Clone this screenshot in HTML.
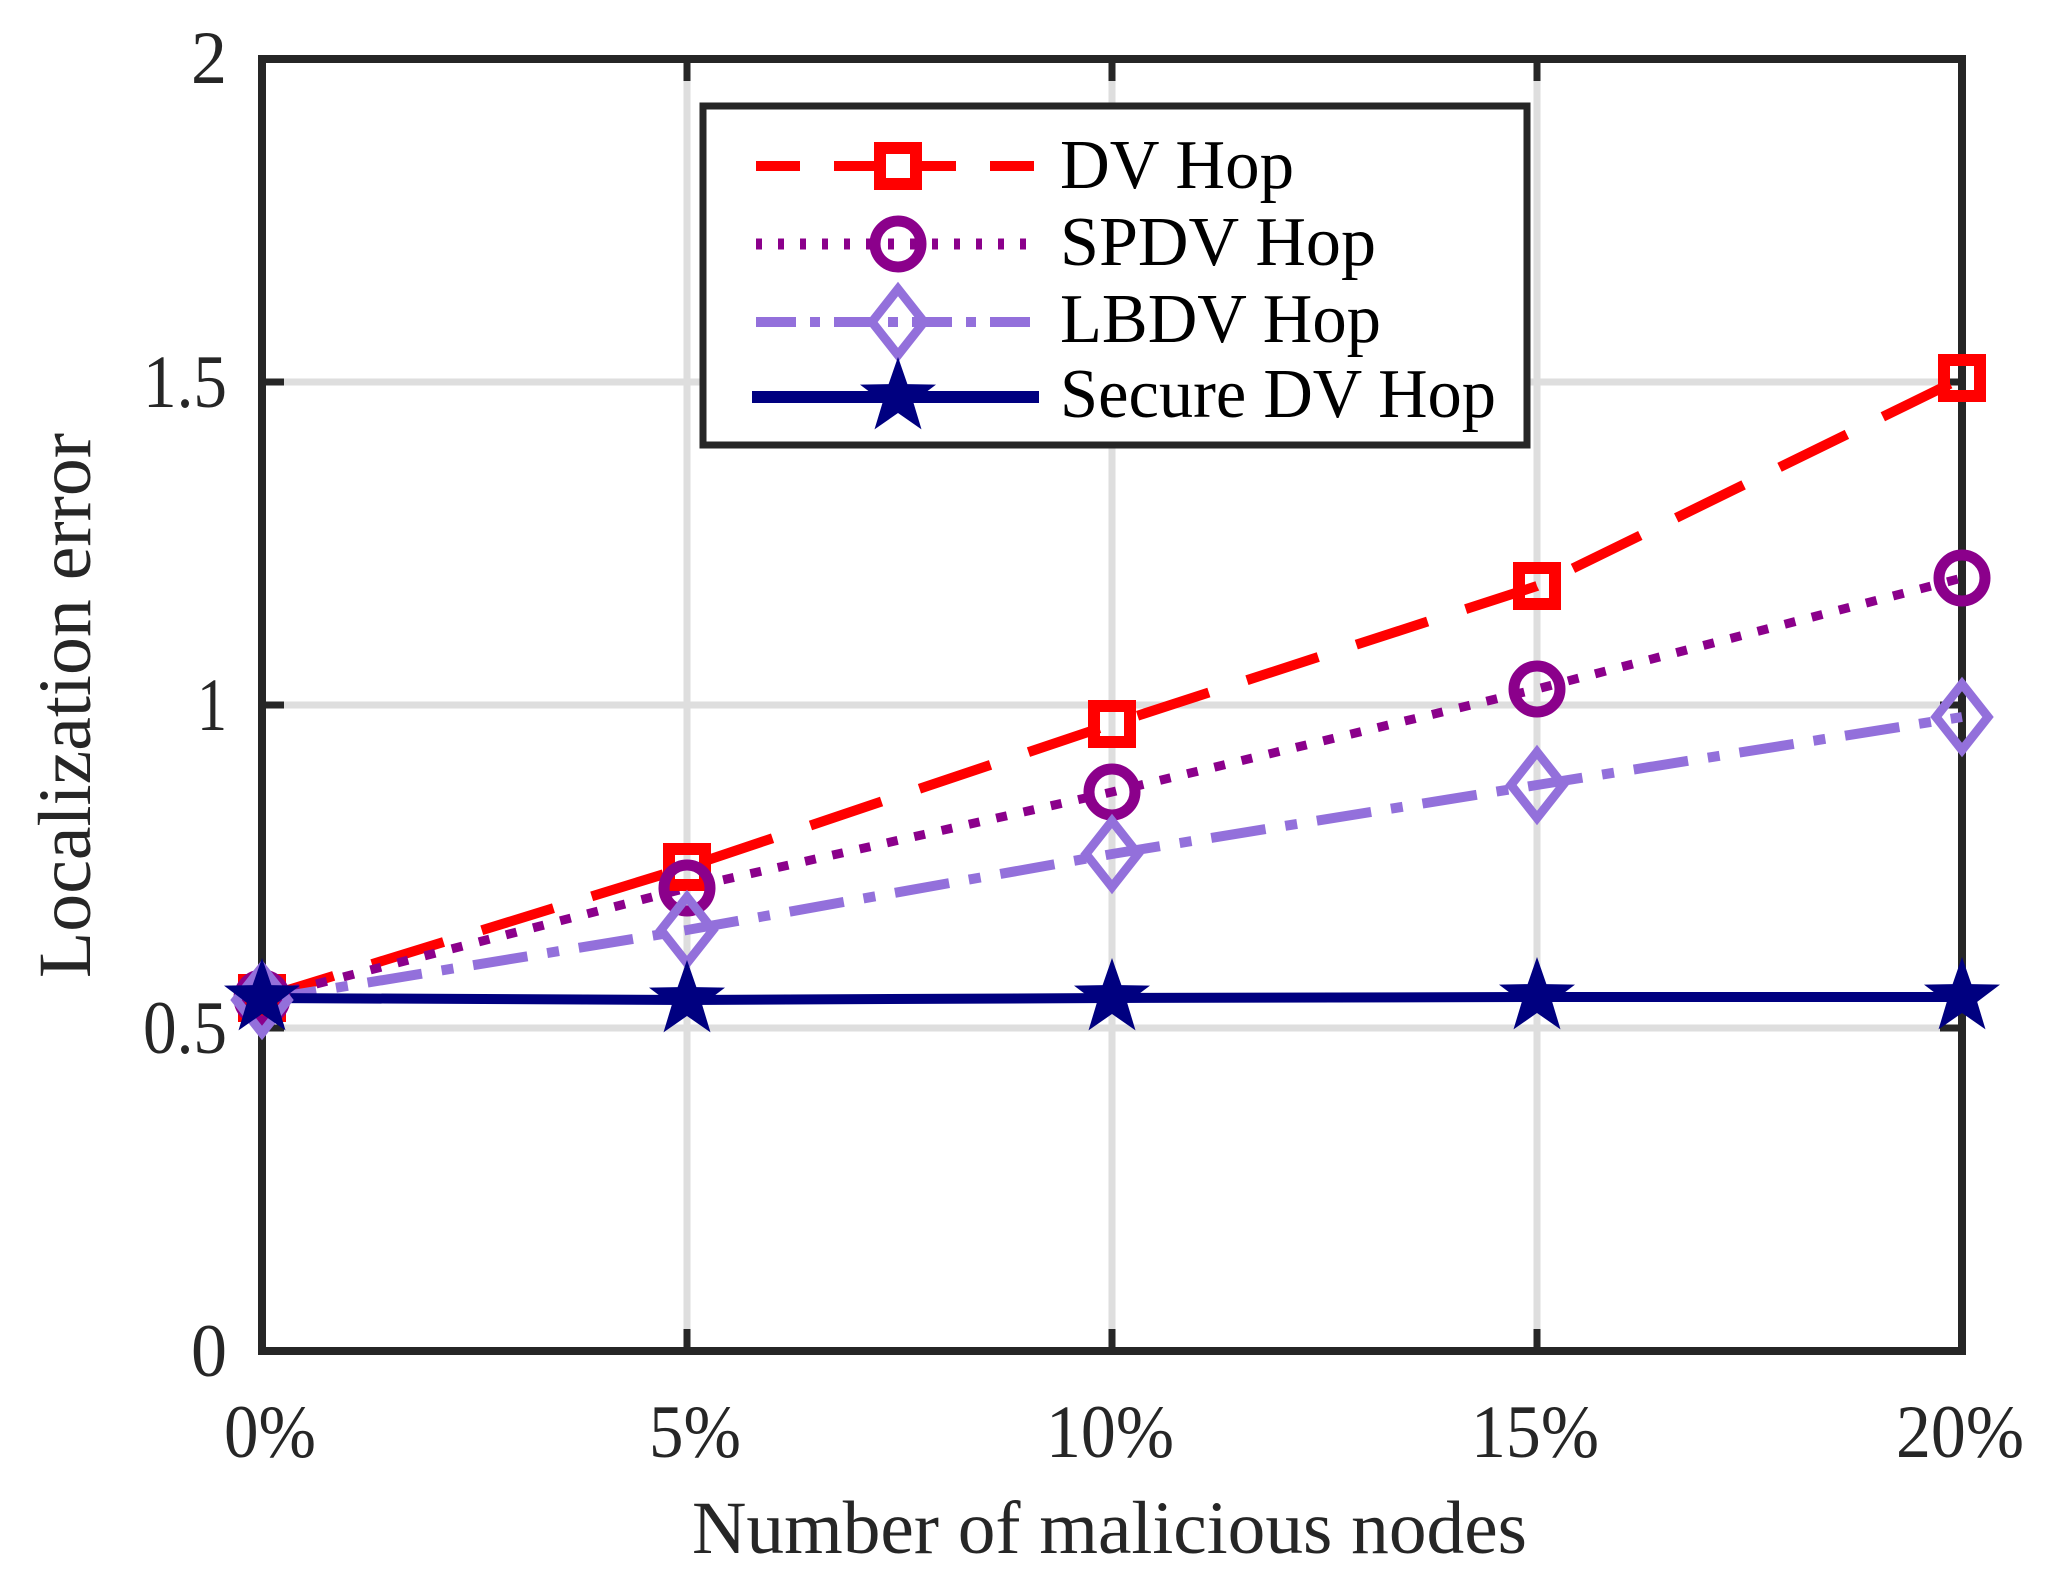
<!DOCTYPE html>
<html><head><meta charset="utf-8"><style>html,body{margin:0;padding:0;background:#fff}svg{display:block}</style></head>
<body>
<svg width="2055" height="1590" viewBox="0 0 2055 1590" xmlns="http://www.w3.org/2000/svg" font-family="Liberation Serif, serif">
<rect width="2055" height="1590" fill="#fff"/>
<!-- grid -->
<g stroke="#dedede" stroke-width="7">
<line x1="687" y1="59" x2="687" y2="1351"/><line x1="1112" y1="59" x2="1112" y2="1351"/><line x1="1537" y1="59" x2="1537" y2="1351"/>
<line x1="262" y1="1028" x2="1962" y2="1028"/><line x1="262" y1="705" x2="1962" y2="705"/><line x1="262" y1="382" x2="1962" y2="382"/>
</g>
<!-- ticks -->
<g stroke="#262626" stroke-width="7">
<line x1="262" y1="1028" x2="284" y2="1028"/><line x1="262" y1="705" x2="284" y2="705"/><line x1="262" y1="382" x2="284" y2="382"/>
<line x1="1962" y1="1028" x2="1940" y2="1028"/><line x1="1962" y1="705" x2="1940" y2="705"/><line x1="1962" y1="382" x2="1940" y2="382"/>
<line x1="687" y1="1351" x2="687" y2="1329"/><line x1="1112" y1="1351" x2="1112" y2="1329"/><line x1="1537" y1="1351" x2="1537" y2="1329"/>
<line x1="687" y1="59" x2="687" y2="81"/><line x1="1112" y1="59" x2="1112" y2="81"/><line x1="1537" y1="59" x2="1537" y2="81"/>
</g>
<rect x="262" y="59" width="1700" height="1292" fill="none" stroke="#262626" stroke-width="8"/>
<!-- series lines -->
<g fill="none" stroke-width="10">
<polyline stroke="#ff0000" stroke-dasharray="75,40" points="262,998 687,867 1112,724 1537,586 1962,378"/>
<polyline stroke="#8b008b" stroke-dasharray="11,17" stroke-width="9" points="262,998 687,888 1112,792 1537,689 1962,578"/>
<polyline stroke="#9370db" stroke-dasharray="55,20,12,20" points="262,1000 687,930 1112,854 1537,785 1962,717"/>
<polyline stroke="#000080" points="262,998 687,1000 1112,998 1537,997 1962,997"/>
</g>
<!-- markers -->
<defs>
<rect id="sq" x="-18" y="-18" width="36" height="36" fill="none" stroke="#ff0000" stroke-width="12"/>
<circle id="ci" r="23" fill="none" stroke="#8b008b" stroke-width="11"/>
<polygon id="di" points="0,-33 26,0 0,33 -26,0" fill="none" stroke="#9370db" stroke-width="9"/>
<polygon id="st" points="0,-40 9.4,-12.9 38,-12.4 15.2,4.9 23.5,32.4 0,16 -23.5,32.4 -15.2,4.9 -38,-12.4 -9.4,-12.9" fill="#000080"/>
</defs>
<use href="#sq" x="262" y="998"/><use href="#sq" x="687" y="867"/><use href="#sq" x="1112" y="724"/><use href="#sq" x="1537" y="586"/><use href="#sq" x="1962" y="378"/>
<use href="#ci" x="262" y="998"/><use href="#ci" x="687" y="888"/><use href="#ci" x="1112" y="792"/><use href="#ci" x="1537" y="689"/><use href="#ci" x="1962" y="578"/>
<use href="#di" x="262" y="1000"/><use href="#di" x="687" y="930"/><use href="#di" x="1112" y="854"/><use href="#di" x="1537" y="785"/><use href="#di" x="1962" y="717"/>
<use href="#st" x="262" y="998"/><use href="#st" x="687" y="1000"/><use href="#st" x="1112" y="998"/><use href="#st" x="1537" y="997"/><use href="#st" x="1962" y="997"/>
<!-- tick labels -->
<g font-size="75" fill="#262626" text-anchor="end">
<text x="227" y="83" textLength="36" lengthAdjust="spacingAndGlyphs">2</text>
<text x="227" y="407" textLength="84" lengthAdjust="spacingAndGlyphs">1.5</text>
<text x="227" y="730" textLength="30" lengthAdjust="spacingAndGlyphs">1</text>
<text x="227" y="1053" textLength="84" lengthAdjust="spacingAndGlyphs">0.5</text>
<text x="227" y="1376" textLength="36" lengthAdjust="spacingAndGlyphs">0</text>
</g>
<g font-size="75" fill="#262626">
<text x="224" y="1457" textLength="92" lengthAdjust="spacingAndGlyphs">0%</text>
<text x="649" y="1457" textLength="92" lengthAdjust="spacingAndGlyphs">5%</text>
<text x="1046" y="1457" textLength="128" lengthAdjust="spacingAndGlyphs">10%</text>
<text x="1471" y="1457" textLength="128" lengthAdjust="spacingAndGlyphs">15%</text>
<text x="1896" y="1457" textLength="128" lengthAdjust="spacingAndGlyphs">20%</text>
<text x="692" y="1553" textLength="835" lengthAdjust="spacingAndGlyphs">Number of malicious nodes</text>
<text transform="translate(90,978) rotate(-90)" textLength="545" lengthAdjust="spacingAndGlyphs">Localization error</text>
</g>
<!-- legend -->
<rect x="703" y="106" width="824" height="339" fill="#fff" stroke="#262626" stroke-width="7"/>
<g stroke-width="10" fill="none">
<line x1="756" y1="166" x2="1035" y2="166" stroke="#ff0000" stroke-dasharray="44,34"/>
<line x1="756" y1="244" x2="1035" y2="244" stroke="#8b008b" stroke-dasharray="6,16" stroke-width="11"/>
<line x1="756" y1="322" x2="1035" y2="322" stroke="#9370db" stroke-dasharray="40,14,10,14"/>
<line x1="752" y1="397" x2="1039" y2="397" stroke="#000080" stroke-width="12"/>
</g>
<use href="#sq" x="898" y="166"/>
<use href="#ci" x="898" y="244"/>
<use href="#di" x="898" y="322"/>
<use href="#st" x="898" y="397"/>
<g font-size="70" fill="#000">
<text x="1060" y="188" textLength="234" lengthAdjust="spacingAndGlyphs">DV Hop</text>
<text x="1060" y="265" textLength="316" lengthAdjust="spacingAndGlyphs">SPDV Hop</text>
<text x="1060" y="342" textLength="321" lengthAdjust="spacingAndGlyphs">LBDV Hop</text>
<text x="1060" y="417" textLength="436" lengthAdjust="spacingAndGlyphs">Secure DV Hop</text>
</g>
</svg>
</body></html>
